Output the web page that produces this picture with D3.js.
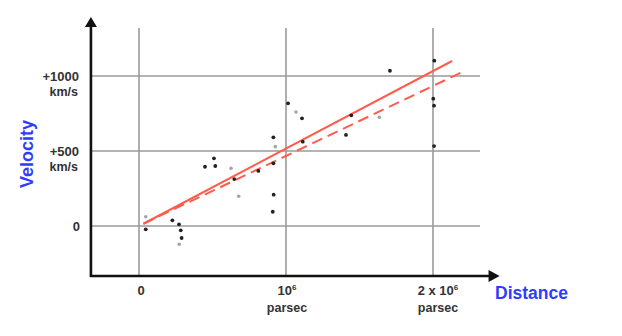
<!DOCTYPE html>
<html><head><meta charset="utf-8">
<script src="https://cdn.jsdelivr.net/npm/d3@7"></script>
<style>body{margin:0;background:#fff}svg{display:block}text{font-family:"Liberation Sans",Arial,sans-serif}</style>
</head><body>
<svg id="c" width="622" height="336"></svg>
<script>
// distance in 10^6 parsec, velocity in km/s
const blackDist = [0.046,0.227,0.272,0.284,0.29,0.449,0.51,0.519,0.648,0.812,0.914,0.916,0.91,0.914,1.014,1.109,1.114,1.408,1.444,1.707,2.009,2.002,2.007,2.007];
const blackVel  = [-22,38,11,-29,-80,395,451,400,313,367,418,209,95,591,818,718,562,607,738,1035,1102,849,802,533];
const grayDist  = [0.046,0.274,0.626,0.678,0.927,1.068,1.635];
const grayVel   = [62,-122,385,198,529,760,725];
const solidFit  = [[0.03,15],[2.13,1100]];
const dashedFit = [[0.03,15],[2.2,1027]];
const xTicks = [0,1,2];
const yTicks = [0,500,1000];
const yTickLabels = [["0"],["+500","km/s"],["+1000","km/s"]];
const xTickLabels = [["0",""],["10","parsec","6"],["2 x 10","parsec","6"]];

const svg = d3.select("#c");
const x = d3.scaleLinear().domain([0,2]).range([139,433]);
const y = d3.scaleLinear().domain([0,1000]).range([226,76]);
const xMin=-0.327, xMax=2.32, xArrow=2.453, yMin=-333, yTop=1320, yArrow=1393;

// grid
svg.selectAll(".vg").data(xTicks).join("line")
  .attr("x1",d=>x(d)).attr("x2",d=>x(d)).attr("y1",y(yTop)).attr("y2",y(yMin))
  .attr("stroke","#9a9a9a").attr("stroke-width",1.6);
svg.selectAll(".hg").data(yTicks).join("line")
  .attr("x1",x(xMin)).attr("x2",x(xMax)).attr("y1",d=>y(d)).attr("y2",d=>y(d))
  .attr("stroke","#9a9a9a").attr("stroke-width",1.6);

// axes
svg.append("line").attr("x1",x(xMin)).attr("x2",x(xMin)).attr("y1",y(yMin)+1).attr("y2",y(yArrow)+8)
  .attr("stroke","#111").attr("stroke-width",2.6);
svg.append("path").attr("d",`M${x(xMin)},${y(yArrow)} L${x(xMin)-6},${y(yArrow)+10} L${x(xMin)+6},${y(yArrow)+10} Z`).attr("fill","#111");
svg.append("line").attr("x1",x(xMin)-1).attr("x2",x(xArrow)-8).attr("y1",y(yMin)).attr("y2",y(yMin))
  .attr("stroke","#111").attr("stroke-width",2.6);
svg.append("path").attr("d",`M${x(xArrow)},${y(yMin)} L${x(xArrow)-11},${y(yMin)-6} L${x(xArrow)-11},${y(yMin)+6} Z`).attr("fill","#111");

// fit lines
const line = d3.line().x(d=>x(d[0])).y(d=>y(d[1]));
svg.append("path").attr("d",line(solidFit)).attr("stroke","#ff5c4d").attr("stroke-width",2).attr("fill","none");
svg.append("path").attr("d",line(dashedFit)).attr("stroke","#ff5c4d").attr("stroke-width",2).attr("fill","none").attr("stroke-dasharray","11,6");

// points
svg.selectAll(".gp").data(grayDist).join("circle")
  .attr("cx",d=>x(d)).attr("cy",(d,i)=>y(grayVel[i])).attr("r",1.8).attr("fill","#a5a5a5");
svg.selectAll(".bp").data(blackDist).join("circle")
  .attr("cx",d=>x(d)).attr("cy",(d,i)=>y(blackVel[i])).attr("r",1.9).attr("fill","#222");

// y tick labels
yTicks.forEach((t,i)=>{
  const lab = yTickLabels[i];
  const g = svg.append("text").attr("text-anchor","end").attr("font-weight","bold").attr("font-size",13).attr("fill","#333");
  if(lab.length===1){
    g.attr("x",80).attr("y",y(t)+4.5).text(lab[0]);
  } else {
    g.append("tspan").attr("x",79).attr("y",y(t)+4.5).text(lab[0]);
    g.append("tspan").attr("x",78).attr("y",y(t)+20).attr("font-size",12.5).text(lab[1]);
  }
});
// x tick labels
xTicks.forEach((t,i)=>{
  const lab = xTickLabels[i];
  const cx = x(t) + (i===0?2:(i===1?1:5));
  const g = svg.append("text").attr("text-anchor","middle").attr("font-weight","bold").attr("font-size",13).attr("fill","#333")
    .attr("x",cx).attr("y",y(yMin)+19);
  g.append("tspan").text(lab[0]);
  if(lab[2]) g.append("tspan").attr("dy",-5).attr("font-size",8).text(lab[2]);
  if(lab[1]) svg.append("text").attr("text-anchor","middle").attr("font-weight","bold").attr("font-size",12.5).attr("fill","#333")
    .attr("x",cx).attr("y",y(yMin)+36).text(lab[1]);
});

// axis titles
svg.append("text").attr("x",495).attr("y",299).attr("font-weight","bold").attr("font-size",17.5).attr("fill","#2f3cff").text("Distance");
svg.append("text").attr("transform","translate(33,154) rotate(-90)").attr("text-anchor","middle")
  .attr("font-weight","bold").attr("font-size",18).attr("fill","#2f3cff").text("Velocity");
</script>
</body></html>
